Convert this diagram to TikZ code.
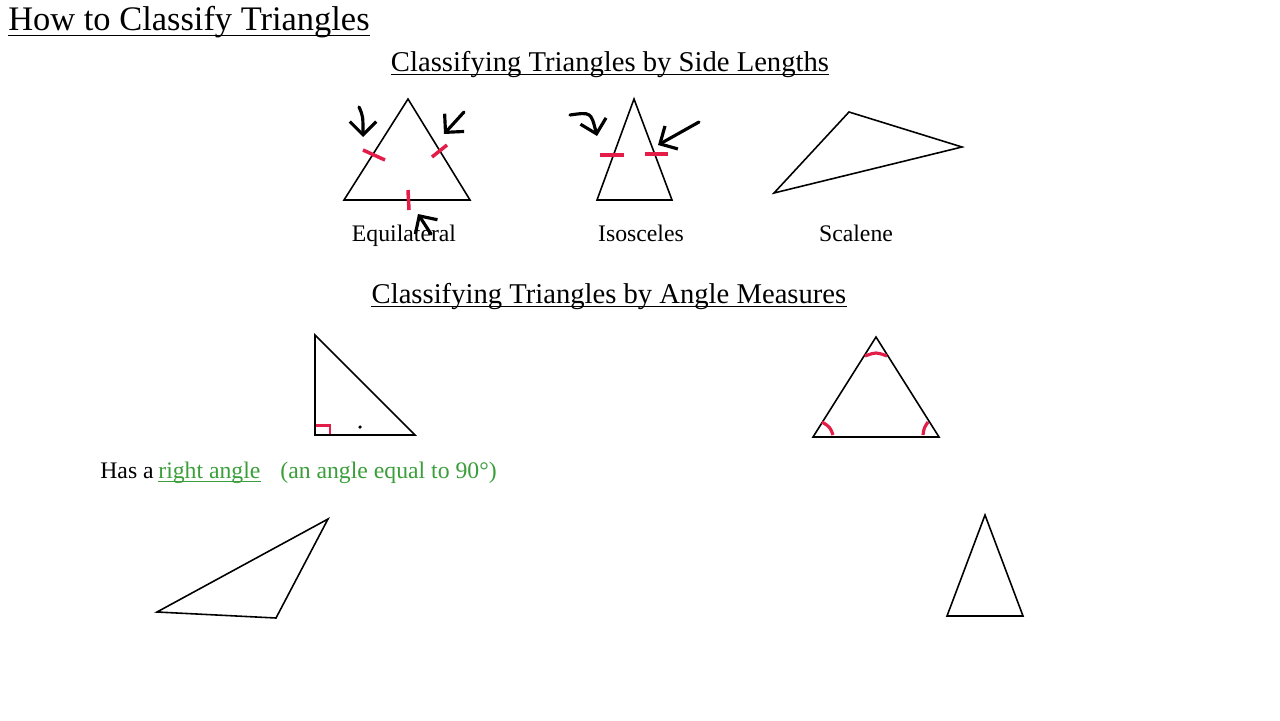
\documentclass[tikz,border=0pt]{standalone}
\usepackage{fontspec}
\setmainfont{Liberation Serif}
\usetikzlibrary{arrows.meta}
\definecolor{markred}{RGB}{228,28,72}
\definecolor{notegreen}{RGB}{58,158,58}
\tikzstyle{tri} = [draw=black, line width=0.9pt, line join=miter]
\tikzstyle{redmark} = [draw=markred, line width=2pt]
\tikzstyle{pointer} = [draw=black, line width=1.8pt, line cap=round,
    -{Straight Barb[length=7.5pt,width=15pt,line width=1.8pt]}]
\tikzstyle{heading} = [inner sep=0pt, anchor=base, font=\fontsize{16.3}{19}\selectfont]
\tikzstyle{caption} = [inner sep=0pt, anchor=base, font=\fontsize{13.5}{16}\selectfont]
\tikzstyle{uline} = [draw=black, line width=0.6pt]

\begin{document}
\begin{tikzpicture}[x=0.02cm, y=-0.02cm]
\useasboundingbox (0,0) rectangle (1280,720);
% title and headings
\node (title) [heading, anchor=base west, font=\fontsize{19.6}{23}\selectfont] at (8,31) {How to Classify Triangles};
\draw [uline] ([yshift=-2.3pt]title.base west) -- ([yshift=-2.3pt]title.base east);
\node (sideHead) [heading] at (610,71) {Classifying Triangles by Side Lengths};
\draw [uline] ([yshift=-1.8pt]sideHead.base west) -- ([yshift=-1.8pt]sideHead.base east);
\node (angleHead) [heading] at (609,303) {Classifying Triangles by Angle Measures};
\draw [uline] ([yshift=-1.8pt]angleHead.base west) -- ([yshift=-1.8pt]angleHead.base east);

% equilateral
\coordinate (eqA) at (344,200);
\coordinate (eqB) at (470,200);
\coordinate (eqC) at (408,99);
\draw [tri] (eqA) -- (eqB) -- (eqC) -- cycle;
\draw [redmark] (363,150) -- (385,160);
\draw [redmark] (432,157) -- (447,145);
\draw [redmark] (408,190) -- (409,210);
\coordinate (eqLeftTail) at (359,107);
\coordinate (eqLeftTip) at (363,137);
\coordinate (eqRightTail) at (464,112);
\coordinate (eqRightTip) at (444,134);
\coordinate (eqBaseTail) at (431,234);
\coordinate (eqBaseTip) at (418,214);
\draw [pointer] (eqLeftTail) .. controls (363,116) .. (eqLeftTip);
\draw [pointer] (eqRightTail) -- (eqRightTip);
\draw [pointer] (eqBaseTail) -- (eqBaseTip);
\node (eqLabel) [caption] at (404,241) {Equilateral};

% isosceles
\coordinate (isoA) at (597,200);
\coordinate (isoB) at (672,200);
\coordinate (isoC) at (634,99);
\draw [tri] (isoA) -- (isoB) -- (isoC) -- cycle;
\draw [redmark] (600,155) -- (624,155);
\draw [redmark] (645,154) -- (668,154);
\coordinate (isoLeftTail) at (570,115);
\coordinate (isoLeftTip) at (597,136);
\coordinate (isoRightTail) at (699,122);
\coordinate (isoRightTip) at (658,145);
\draw [pointer] (isoLeftTail) .. controls (591,112) .. (isoLeftTip);
\draw [pointer] (isoRightTail) -- (isoRightTip);
\node (isoLabel) [caption] at (641,241) {Isosceles};

% scalene
\coordinate (scA) at (774,193);
\coordinate (scB) at (849,112);
\coordinate (scC) at (962,147);
\draw [tri] (scA) -- (scB) -- (scC) -- cycle;
\node (scLabel) [caption] at (856,241) {Scalene};

% right triangle
\coordinate (rtA) at (315,335);
\coordinate (rtB) at (315,435);
\coordinate (rtC) at (415,435);
\draw [tri] (rtA) -- (rtB) -- (rtC) -- cycle;
\draw [redmark, line width=1.7pt] (316,425) -- (330,425) -- (330,434);
\fill (360,427) circle (1pt);
\node (hasA) [caption, anchor=base west] at (100,478) {Has a};
\node (rightAng) [caption, anchor=base west, text=notegreen] at (158,478) {right angle};
\draw [uline, draw=notegreen] ([yshift=-2pt]rightAng.base west) -- ([yshift=-2pt]rightAng.base east);
\node (rightNote) [caption, anchor=base west, text=notegreen] at (280,478) {(an angle equal to 90°)};

% acute triangle
\coordinate (acA) at (813,437);
\coordinate (acB) at (939,437);
\coordinate (acC) at (876,337);
\draw [tri] (acA) -- (acB) -- (acC) -- cycle;
\draw [redmark, line width=1.8pt] (865,356) .. controls (876,352) .. (887,356);
\draw [redmark, line width=1.8pt] (822,422) .. controls (830,427) .. (833,435);
\draw [redmark, line width=1.8pt] (928,422) .. controls (924,428) .. (923,435);

% obtuse triangle
\coordinate (obA) at (157,612);
\coordinate (obB) at (328,519);
\coordinate (obC) at (276,618);
\draw [tri] (obA) -- (obB) -- (obC) -- cycle;

% narrow isosceles
\coordinate (naA) at (947,616);
\coordinate (naB) at (1023,616);
\coordinate (naC) at (985,515);
\draw [tri] (naA) -- (naB) -- (naC) -- cycle;
\end{tikzpicture}
\end{document}
